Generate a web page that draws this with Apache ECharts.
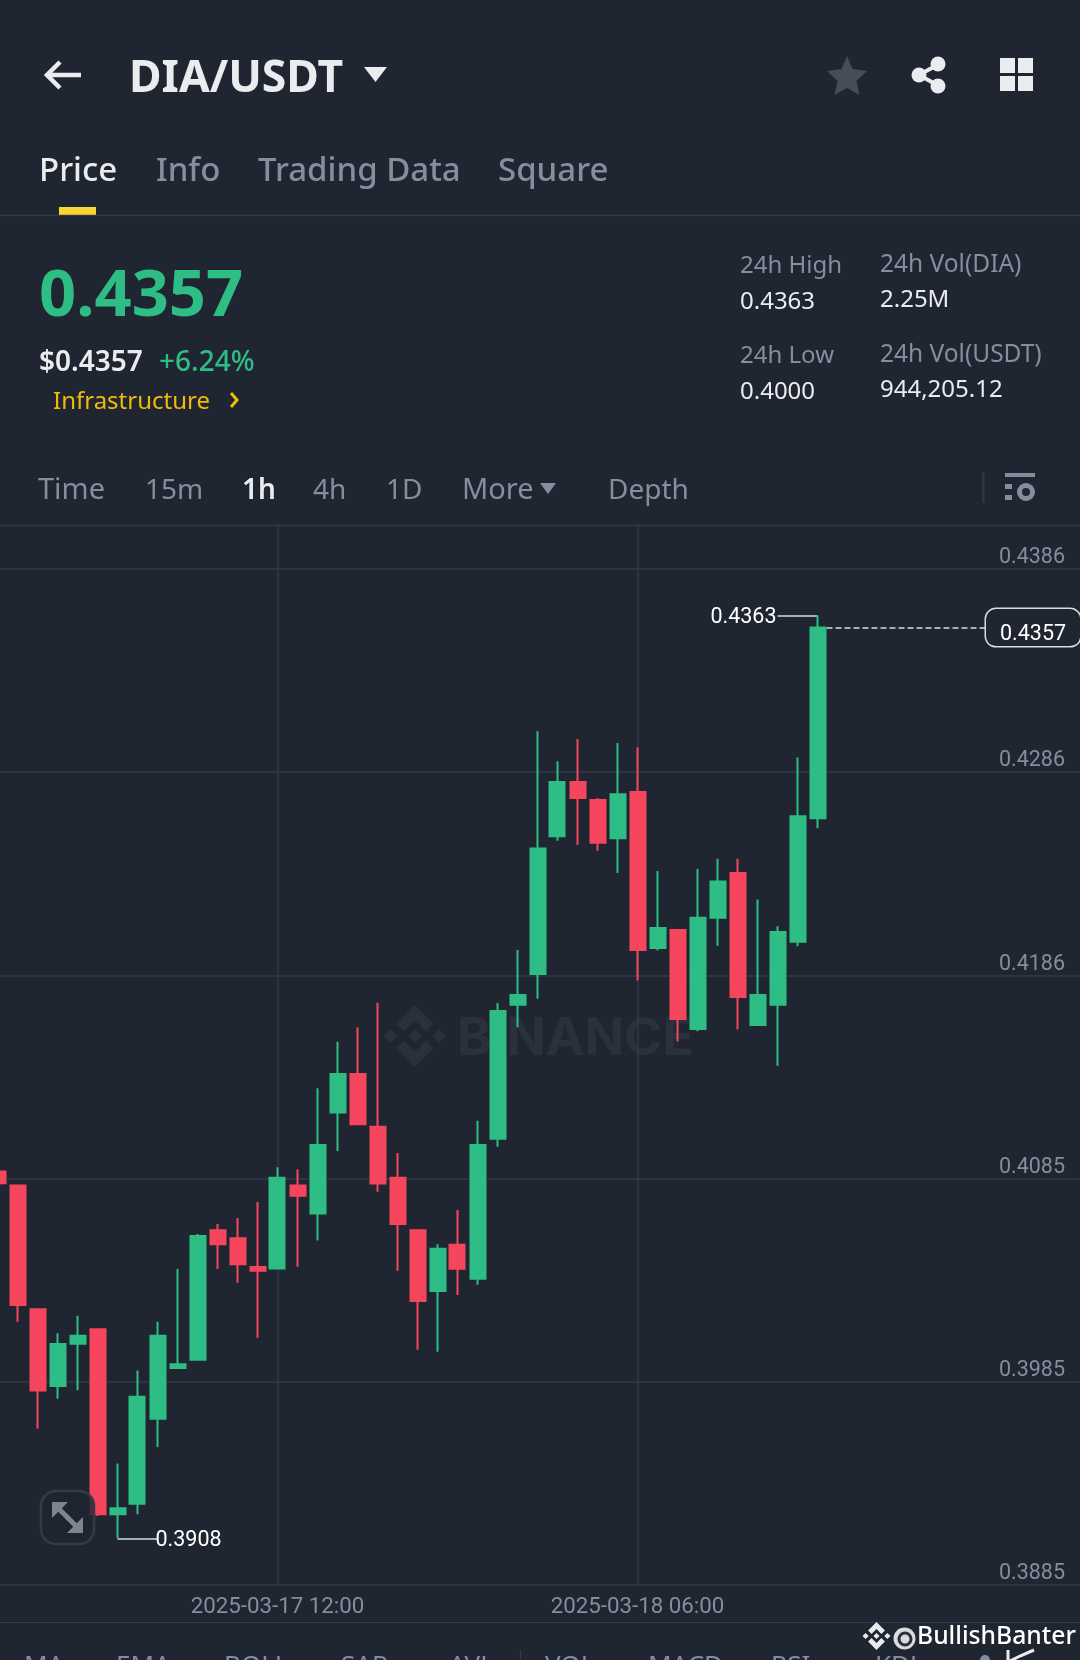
<!DOCTYPE html>
<html>
<head>
<meta charset="utf-8">
<title>DIA/USDT</title>
<style>
  html, body { margin: 0; padding: 0; background: #1f2631; }
  #main { width: 1080px; height: 1660px; }
</style>
</head>
<body>
<div id="main"></div>
<script src="https://cdn.jsdelivr.net/npm/echarts@6/dist/echarts.min.js"></script>
<script>
// hourly candles, last 14 slots are empty space on the right of the chart
const hours = [
  "2025-03-16 22:00", "2025-03-16 23:00", "2025-03-17 00:00", "2025-03-17 01:00", "2025-03-17 02:00", "2025-03-17 03:00",
  "2025-03-17 04:00", "2025-03-17 05:00", "2025-03-17 06:00", "2025-03-17 07:00", "2025-03-17 08:00", "2025-03-17 09:00",
  "2025-03-17 10:00", "2025-03-17 11:00", "2025-03-17 12:00", "2025-03-17 13:00", "2025-03-17 14:00", "2025-03-17 15:00",
  "2025-03-17 16:00", "2025-03-17 17:00", "2025-03-17 18:00", "2025-03-17 19:00", "2025-03-17 20:00", "2025-03-17 21:00",
  "2025-03-17 22:00", "2025-03-17 23:00", "2025-03-18 00:00", "2025-03-18 01:00", "2025-03-18 02:00", "2025-03-18 03:00",
  "2025-03-18 04:00", "2025-03-18 05:00", "2025-03-18 06:00", "2025-03-18 07:00", "2025-03-18 08:00", "2025-03-18 09:00",
  "2025-03-18 10:00", "2025-03-18 11:00", "2025-03-18 12:00", "2025-03-18 13:00", "2025-03-18 14:00", "2025-03-18 15:00",
  "2025-03-18 16:00", "2025-03-18 17:00", "2025-03-18 18:00", "2025-03-18 19:00", "2025-03-18 20:00", "2025-03-18 21:00",
  "2025-03-18 22:00", "2025-03-18 23:00", "2025-03-19 00:00", "2025-03-19 01:00", "2025-03-19 02:00", "2025-03-19 03:00",
  "2025-03-19 04:00", "2025-03-19 05:00"
];

const opens = [
  0.40889, 0.40819, 0.40209, 0.39831, 0.40040, 0.40111, 0.39199, 0.39250, 0.39670, 0.39920, 0.39961, 0.40599,
  0.40559, 0.40418, 0.40411, 0.40819, 0.40681, 0.41180, 0.41369, 0.41109, 0.40858, 0.40599, 0.40299, 0.40528,
  0.40360, 0.41050, 0.41711, 0.41862, 0.42541, 0.42809, 0.42720, 0.42532, 0.42759, 0.41990, 0.42079, 0.41591,
  0.42140, 0.42360, 0.41611, 0.41711, 0.42021, 0.42630
];
const closes = [
  0.40831, 0.40230, 0.39809, 0.40038, 0.40079, 0.39199, 0.39229, 0.39778, 0.40079, 0.39938, 0.40571, 0.40530,
  0.40431, 0.40399, 0.40858, 0.40769, 0.41019, 0.41369, 0.41121, 0.40830, 0.40630, 0.40250, 0.40508, 0.40409,
  0.41019, 0.41680, 0.41759, 0.42481, 0.42809, 0.42730, 0.42510, 0.42749, 0.41981, 0.42089, 0.41640, 0.42140,
  0.42318, 0.41749, 0.41759, 0.42069, 0.42640, 0.43570
];
const lows = [
  0.40831, 0.40148, 0.39621, 0.39768, 0.39810, 0.39190, 0.39080, 0.39199, 0.39530, 0.39920, 0.39961, 0.40408,
  0.40340, 0.40069, 0.40411, 0.40419, 0.40549, 0.40990, 0.41121, 0.40789, 0.40399, 0.40010, 0.40000, 0.40280,
  0.40330, 0.41011, 0.41600, 0.41740, 0.42519, 0.42499, 0.42470, 0.42360, 0.41830, 0.41979, 0.41530, 0.41580,
  0.42001, 0.41589, 0.41611, 0.41410, 0.41999, 0.42581
];
const highs = [
  0.40889, 0.40819, 0.40209, 0.40091, 0.40178, 0.40111, 0.39449, 0.39908, 0.40148, 0.40408, 0.40580, 0.40630,
  0.40659, 0.40738, 0.40909, 0.40899, 0.41299, 0.41528, 0.41599, 0.41721, 0.40980, 0.40599, 0.40530, 0.40699,
  0.41139, 0.41719, 0.41981, 0.43059, 0.42911, 0.43021, 0.42730, 0.43001, 0.42979, 0.42370, 0.42079, 0.42380,
  0.42430, 0.42430, 0.42229, 0.42098, 0.42930, 0.43630
];

const priceTicks = [0.3885, 0.39852, 0.40854, 0.41856, 0.42858, 0.4386];
const timeTicks = ["2025-03-17 12:00", "2025-03-18 06:00"];
const lastPrice = 0.4357;
const highPoint = { index: 41, value: 0.4363 };
const lowPoint = { index: 6, value: 0.3908 };

const BG = "#1f2631";
const GREEN = "#2EBD85";
const RED = "#F6465D";
const DIM = "#848E9C";
const WHITE = "#EAECEF";
const LINE = "#333A46";
const UI_FONT = '"Noto Sans", sans-serif';
const NUM_FONT = "Roboto, sans-serif";

const candles = opens.map((o, i) => [o, closes[i], lows[i], highs[i]]);

// small helpers for the app chrome around the chart
function txt(text, x, y, size, fill, weight, family, align) {
  return {
    type: "text",
    z: 100,
    silent: true,
    style: {
      text: text,
      x: x,
      y: y + 2,
      fill: fill,
      fontSize: size,
      fontWeight: weight || 400,
      fontFamily: family || UI_FONT,
      textAlign: align || "left",
      textVerticalAlign: "middle",
    },
  };
}
function poly(points, fill, z) {
  return { type: "polygon", z: z === undefined ? 100 : z, silent: true, shape: { points: points }, style: { fill: fill } };
}
function seg(x1, y1, x2, y2, stroke, width, z) {
  return {
    type: "line",
    z: z === undefined ? 100 : z,
    silent: true,
    shape: { x1: x1, y1: y1, x2: x2, y2: y2 },
    style: { stroke: stroke, lineWidth: width || 1 },
  };
}
function box(x, y, w, h, fill, r) {
  return { type: "rect", z: 100, silent: true, shape: { x: x, y: y, width: w, height: h, r: r || 0 }, style: { fill: fill } };
}
function dot(cx, cy, r, fill) {
  return { type: "circle", z: 100, silent: true, shape: { cx: cx, cy: cy, r: r }, style: { fill: fill } };
}
function logo(cx, cy, s, fill, z) {
  const at = (pts) => pts.map((p) => [cx + p[0] * s, cy + p[1] * s]);
  const diamond = (dx, r) => at([[dx, -r], [dx + r, 0], [dx, r], [dx - r, 0]]);
  return [
    poly(diamond(0, 0.22), fill, z),
    poly(diamond(-0.78, 0.22), fill, z),
    poly(diamond(0.78, 0.22), fill, z),
    poly(at([[0, -1], [0.6, -0.4], [0.35, -0.15], [0, -0.5], [-0.35, -0.15], [-0.6, -0.4]]), fill, z),
    poly(at([[0, 1], [0.6, 0.4], [0.35, 0.15], [0, 0.5], [-0.35, 0.15], [-0.6, 0.4]]), fill, z),
  ];
}

const chrome = [
  // header
  seg(47, 75, 81, 75, WHITE, 4.5),
  { type: "polyline", z: 100, silent: true, shape: { points: [[60, 62], [47, 75], [60, 88]] }, style: { stroke: WHITE, lineWidth: 4.5, fill: null } },
  txt("DIA/USDT", 129, 77, 44.5, WHITE, 700),
  poly([[364, 67], [387, 67], [375.5, 82]], WHITE),
  poly([[847, 56], [852.5, 69], [867, 71], [856.5, 81], [859.5, 95], [847, 88], [834.5, 95], [837.5, 81], [827, 71], [841.5, 69]], "#474D57"),
  seg(919, 75, 939, 64, WHITE, 4),
  seg(919, 75, 939, 86, WHITE, 4),
  dot(919, 75, 7.5, WHITE),
  dot(938, 64, 7.5, WHITE),
  dot(938, 86, 7.5, WHITE),
  box(1000, 58, 15, 15, WHITE),
  box(1018, 58, 15, 15, WHITE),
  box(1000, 76, 15, 15, WHITE),
  box(1018, 76, 15, 15, WHITE),

  // tabs
  txt("Price", 39, 170, 33, WHITE, 500),
  txt("Info", 156, 170, 33, DIM, 500),
  txt("Trading Data", 258, 170, 33, DIM, 500),
  txt("Square", 498, 170, 33, DIM, 500),
  box(59, 207, 37, 8, "#FCD535"),
  seg(0, 215.5, 1080, 215.5, LINE, 1.5),

  // price block
  txt("0.4357", 39, 295, 65, GREEN, 700),
  txt("$0.4357", 39, 361, 28, WHITE, 600),
  txt("+6.24%", 159, 361, 28, GREEN, 500),
  txt("Infrastructure", 53, 400, 24, "#F0B90B"),
  { type: "polyline", z: 100, silent: true, shape: { points: [[231, 393], [237, 400], [231, 407]] }, style: { stroke: "#F0B90B", lineWidth: 3, fill: null } },

  // 24h stats
  txt("24h High", 740, 264, 24, DIM),
  txt("0.4363", 740, 300, 24, WHITE),
  txt("24h Low", 740, 354, 24, DIM),
  txt("0.4000", 740, 390, 24, WHITE),
  txt("24h Vol(DIA)", 880, 263, 24.5, DIM),
  txt("2.25M", 880, 298, 24, WHITE),
  txt("24h Vol(USDT)", 880, 353, 24.5, DIM),
  txt("944,205.12", 880, 388, 24, WHITE),

  // interval bar
  txt("Time", 38, 489, 29, DIM),
  txt("15m", 145, 489, 28, DIM),
  txt("1h", 242, 489, 28, WHITE, 600),
  txt("4h", 313, 489, 28, DIM),
  txt("1D", 386, 489, 28, DIM),
  txt("More", 462, 489, 29, DIM),
  poly([[540, 483], [556, 483], [548, 494]], DIM),
  txt("Depth", 608, 489, 28, DIM),
  seg(983.5, 472, 983.5, 503, LINE, 2),
  box(1005, 473, 30, 4, DIM),
  box(1005, 484, 7, 5, DIM),
  box(1005, 495, 7, 5, DIM),
  { type: "circle", z: 100, silent: true, shape: { cx: 1026, cy: 492, r: 6.5 }, style: { stroke: DIM, lineWidth: 5, fill: null } },
  seg(0, 525.5, 1080, 525.5, LINE, 1.5),

  // expand button over the chart
  { type: "rect", z: 100, silent: true, shape: { x: 41, y: 1491, width: 53, height: 53, r: 15 }, style: { fill: "rgba(31,38,49,0.8)", stroke: "#343B47", lineWidth: 2.5 } },
  poly([[52, 1502], [68, 1502], [52, 1518]], "#7F858F"),
  seg(58, 1508, 68, 1518, "#7F858F", 5),
  poly([[83, 1533], [67, 1533], [83, 1517]], "#7F858F"),
  seg(77, 1527, 67, 1517, "#7F858F", 5),

  // indicators row, cut by the bottom of the screenshot
  seg(0, 1622.5, 1080, 1622.5, LINE, 1),
  txt("MA", 24, 1665, 26, DIM),
  txt("EMA", 116, 1665, 26, DIM),
  txt("BOLL", 224, 1665, 26, DIM),
  txt("SAR", 341, 1665, 26, DIM),
  txt("AVL", 449, 1665, 26, DIM),
  seg(520.5, 1650, 520.5, 1660, LINE, 1.5),
  txt("VOL", 545, 1665, 26, DIM),
  txt("MACD", 648, 1665, 26, DIM),
  txt("RSI", 771, 1665, 26, DIM),
  txt("KDJ", 875, 1665, 26, DIM),
  dot(985, 1660, 5, DIM),
  { type: "polyline", z: 100, silent: true, shape: { points: [[1008, 1650], [1008, 1662], [1020, 1656], [1034, 1650]] }, style: { stroke: WHITE, lineWidth: 3, fill: null } },

  // reposter watermark
  ...logo(876.5, 1636, 14, WHITE),
  dot(904.5, 1638.5, 11, "#D9DBDF"),
  { type: "circle", z: 100, silent: true, shape: { cx: 905, cy: 1639, r: 6 }, style: { stroke: "#2A303B", lineWidth: 3, fill: null } },
  txt("BullishBanter", 917, 1635, 24.7, "#FFFFFF", 500),

  // exchange watermark, sits under the candles
  ...logo(415, 1036, 31, "#2A303C", 0),
  {
    type: "text",
    z: 0,
    silent: true,
    style: {
      text: "BINANCE",
      x: 457,
      y: 1039,
      fill: "#2A303C",
      fontSize: 52,
      fontWeight: 700,
      fontFamily: "Inter, sans-serif",
      textVerticalAlign: "middle",
    },
  },
];

const pointLabel = (value, align, distance) => ({
  show: true,
  position: "end",
  distance: distance,
  offset: [0, 2],
  color: "#FFFFFF",
  fontSize: 21.5,
  fontFamily: NUM_FONT,
  align: align,
  verticalAlign: "middle",
  formatter: () => value.toFixed(4),
});

const option = {
  backgroundColor: BG,
  animation: false,
  graphic: { elements: chrome },
  grid: { left: -2.5, right: -17.5, top: 526, bottom: 75, outerBoundsMode: "none" },
  xAxis: {
    type: "category",
    data: hours,
    boundaryGap: false,
    axisLine: { show: false },
    axisTick: { show: false },
    axisLabel: {
      interval: (i, v) => timeTicks.includes(v),
      margin: 11,
      color: DIM,
      fontSize: 22.3,
      fontFamily: NUM_FONT,
      formatter: (v) => v,
    },
    splitLine: {
      show: true,
      interval: (i, v) => timeTicks.includes(v),
      lineStyle: { color: LINE, width: 1.5 },
    },
  },
  yAxis: {
    type: "value",
    position: "right",
    min: 0.3885,
    max: 0.44071,
    axisLine: { show: false },
    axisTick: { show: false, customValues: priceTicks },
    axisLabel: {
      inside: true,
      customValues: priceTicks,
      margin: 32.5,
      color: DIM,
      fontSize: 21.5,
      fontFamily: NUM_FONT,
      verticalAlign: "bottom",
      padding: [0, 0, 0, 0],
      formatter: (v) => v.toFixed(4),
    },
    splitLine: { show: true, lineStyle: { color: LINE, width: 1.5 } },
  },
  series: [
    {
      type: "candlestick",
      data: candles,
      barWidth: 15.5,
      itemStyle: {
        color: GREEN,
        color0: RED,
        borderColor: GREEN,
        borderColor0: RED,
        borderWidth: 2,
      },
      markLine: {
        silent: true,
        z: 1,
        symbol: "none",
        animation: false,
        data: [
          // last price
          [
            {
              coord: [highPoint.index, lastPrice],
              lineStyle: { color: "#DADCE0", type: "dashed", width: 1.5 },
              label: {
                show: true,
                position: "end",
                distance: -11.5,
                backgroundColor: BG,
                borderColor: "#DADCE0",
                borderWidth: 1.5,
                borderRadius: 10,
                padding: [0, 14, 0, 14],
                formatter: () => "{p|" + lastPrice.toFixed(4) + "}",
                rich: {
                  p: { color: "#FFFFFF", fontSize: 21.5, fontFamily: NUM_FONT, lineHeight: 37, verticalAlign: "bottom" },
                },
              },
            },
            { coord: [50, lastPrice] },
          ],
          // 24h high
          [
            {
              coord: [highPoint.index, highPoint.value],
              lineStyle: { color: "#DADCE0", type: "solid", width: 1.5 },
              label: pointLabel(highPoint.value, "right", 1),
            },
            { coord: [highPoint.index - 2, highPoint.value] },
          ],
          // lowest visible
          [
            {
              coord: [lowPoint.index, lowPoint.value],
              lineStyle: { color: "#DADCE0", type: "solid", width: 1.5 },
              label: pointLabel(lowPoint.value, "left", -2),
            },
            { coord: [lowPoint.index + 2, lowPoint.value] },
          ],
        ],
      },
    },
  ],
};

const myChart = echarts.init(document.getElementById("main"));
myChart.setOption(option);
</script>
</body>
</html>
